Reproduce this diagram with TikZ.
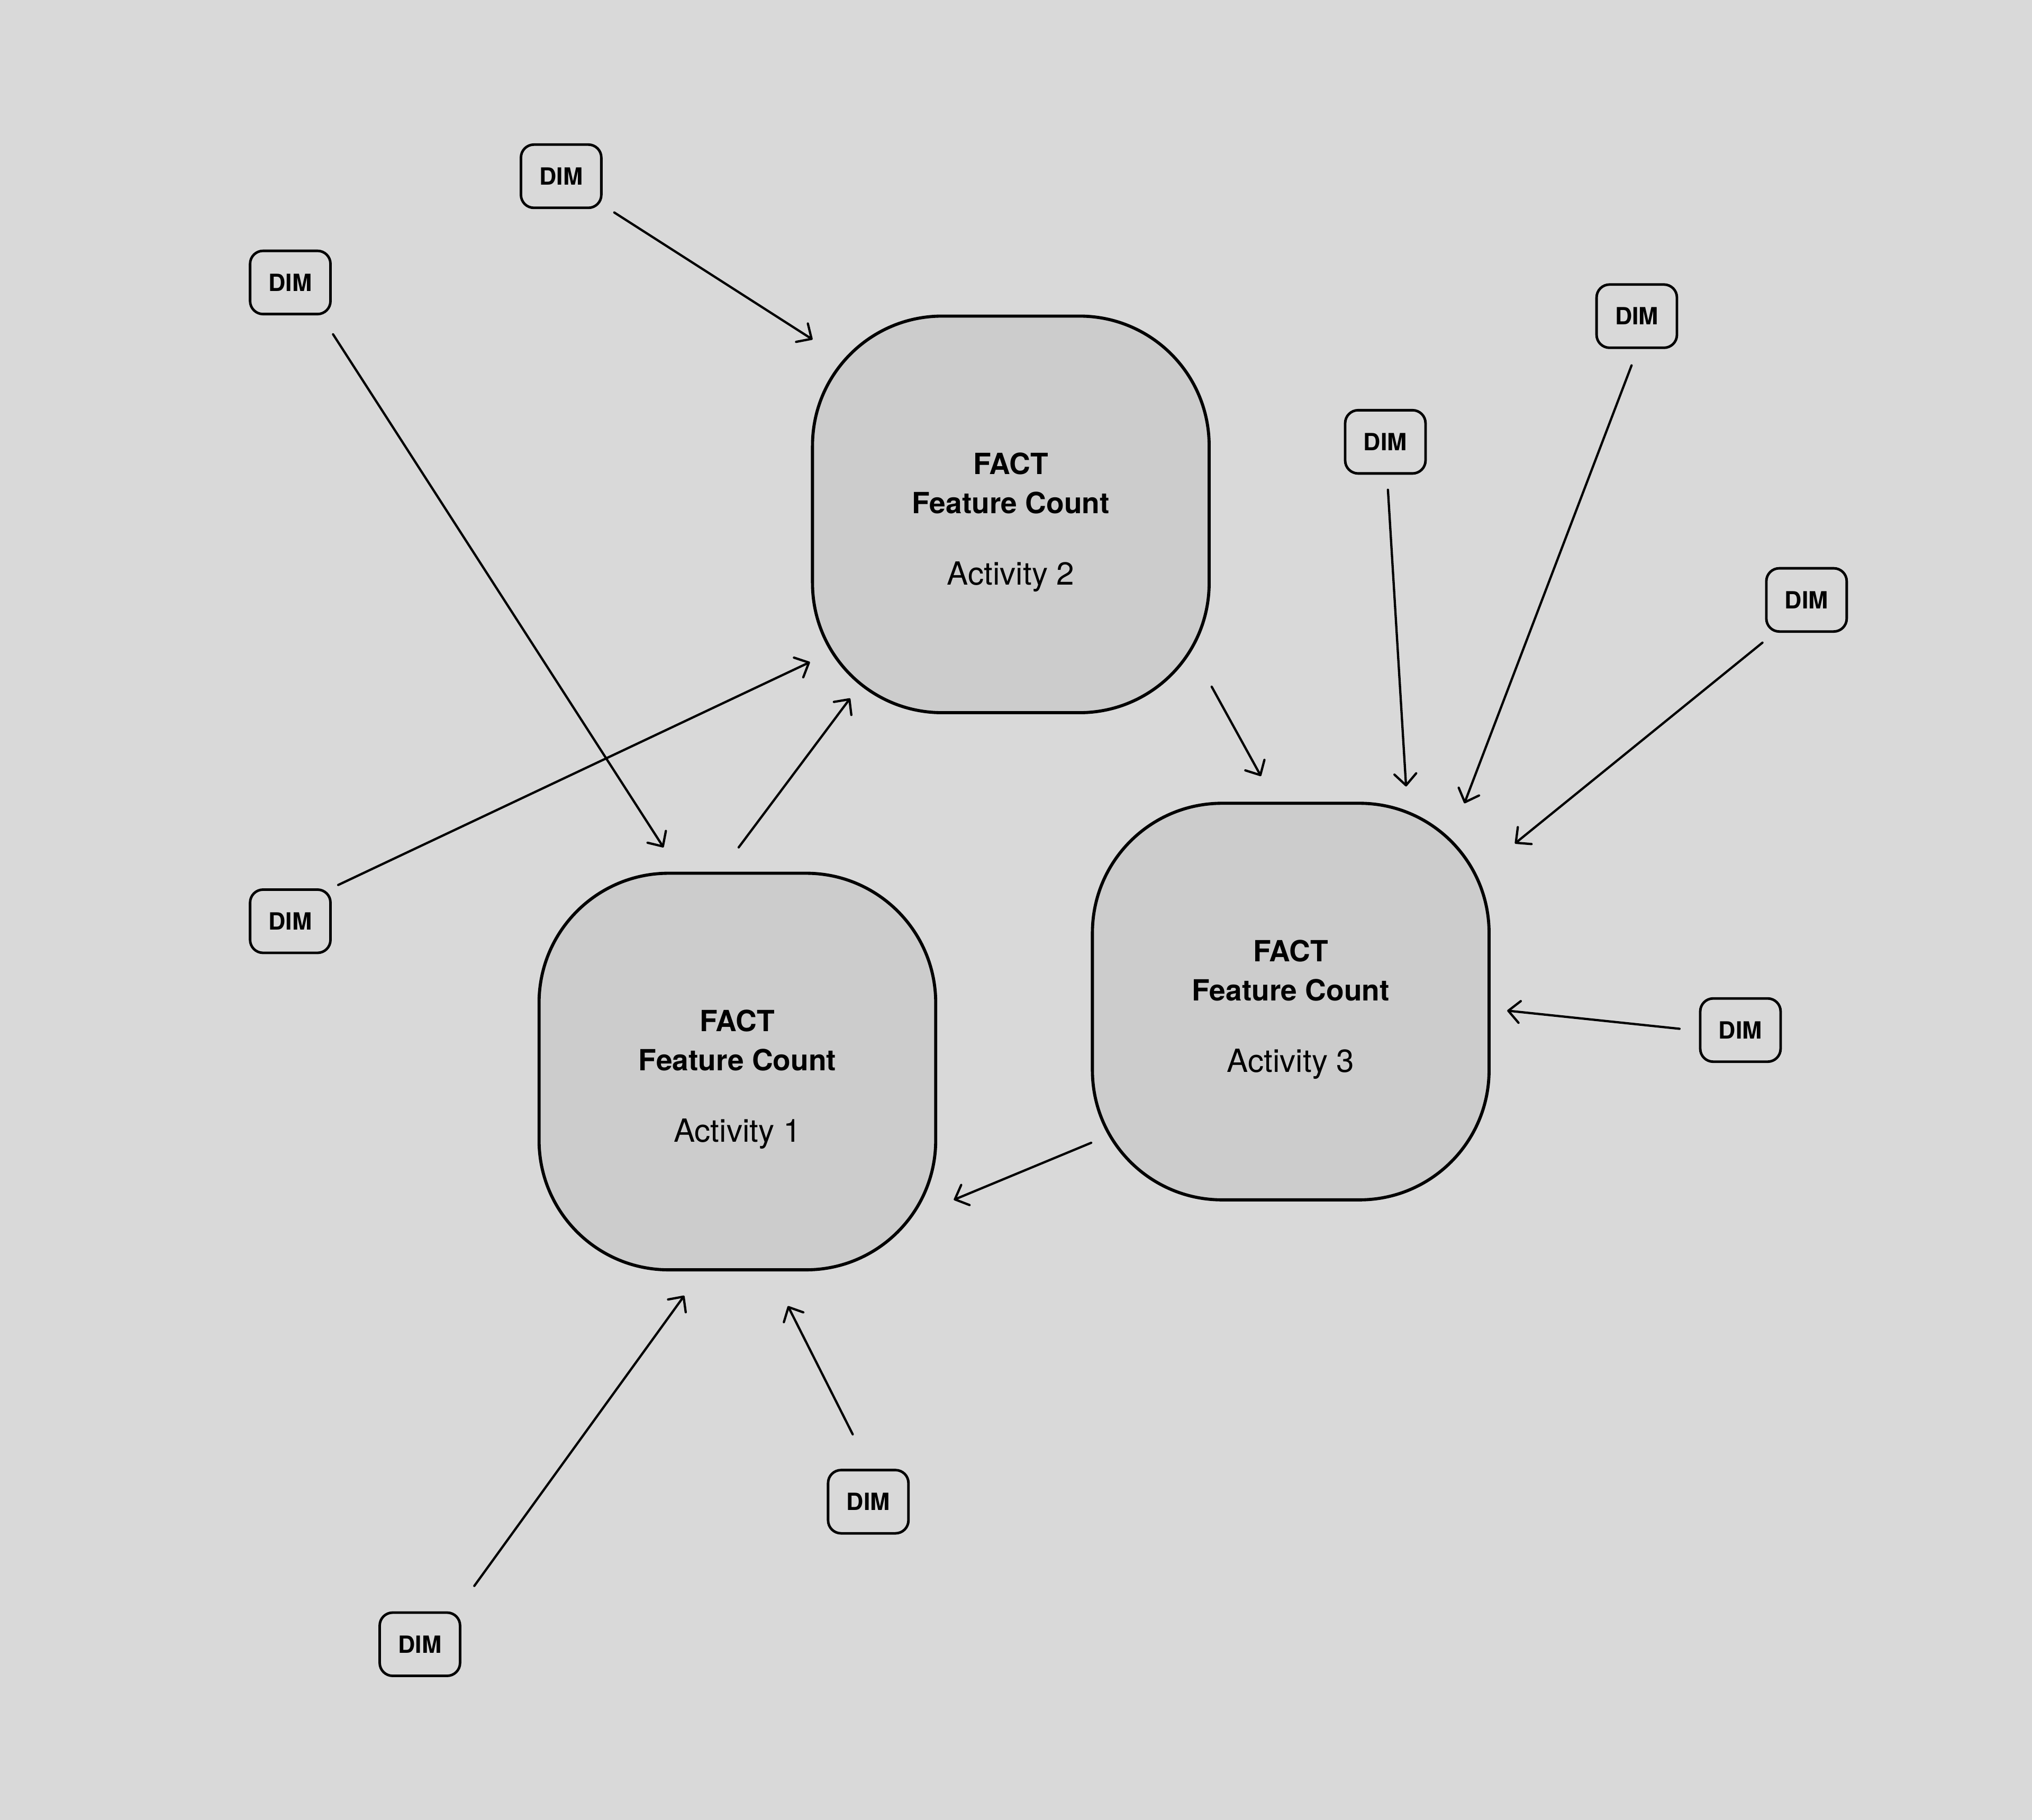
\documentclass[tikz,border=0pt]{standalone}
\usepackage{fontspec}
\setmainfont{TeX Gyre Heros}
\usepackage{xcolor}
\usetikzlibrary{arrows.meta,calc}
\definecolor{bggray}{HTML}{D9D9D9}
\definecolor{factgray}{HTML}{CCCCCC}
\newcommand{\actfont}{\fontsize{17.5}{21.5}\selectfont}

\begin{document}
\begin{tikzpicture}[x=0.025cm, y=-0.025cm,
    fact/.style={rectangle, draw, line width=1.7pt, fill=factgray, rounded corners=2.5cm,
        minimum width=7.65cm, minimum height=7.65cm, align=center, font=\fontsize{16}{21.5}\selectfont},
    dim/.style={rectangle, draw, line width=1.4pt, rounded corners=0.25cm, inner sep=0pt,
        minimum width=1.55cm, minimum height=1.22cm, font=\bfseries\fontsize{13}{15}\selectfont},
    arr/.style={line width=1.25pt, line cap=round,
        -{Straight Barb[length=2.2mm, width=4.2mm, line cap=round, line join=round]}}]
    \fill[bggray] (0,0) rectangle (1568,1404.67);
    \useasboundingbox (0,0) rectangle (1568,1404.67);

    \node[fact] (A2) at (780,397) {\rule{0pt}{0.72cm}\textbf{FACT}\\\textbf{Feature Count}\\[0.62cm]\actfont Activity 2};
    \node[fact] (A1) at (569,827) {\rule{0pt}{0.72cm}\textbf{FACT}\\\textbf{Feature Count}\\[0.62cm]\actfont Activity 1};
    \node[fact] (A3) at (996,773) {\rule{0pt}{0.72cm}\textbf{FACT}\\\textbf{Feature Count}\\[0.62cm]\actfont Activity 3};

    \node[dim] (D1) at (433,136) {DIM};
    \node[dim] (D2) at (224,218) {DIM};
    \node[dim] (D3) at (1263,244) {DIM};
    \node[dim] (D4) at (1069,341) {DIM};
    \node[dim] (D5) at (1394,463) {DIM};
    \node[dim] (D6) at (224,711) {DIM};
    \node[dim] (D7) at (1343,795) {DIM};
    \node[dim] (D8) at (670,1159) {DIM};
    \node[dim] (D9) at (324,1269) {DIM};

    \draw[arr] ($(D1)+(41,28)$) -- ($(A2)+(-153,-135)$);
    \draw[arr] ($(D2)+(33,40)$) -- ($(A1)+(-57,-173)$);
    \draw[arr] ($(D6)+(37,-28)$) -- ($(A2)+(-155,114)$);
    \draw[arr] ($(A1)+(1,-173)$) -- ($(A2)+(-124,142)$);
    \draw[arr] ($(A2)+(155,133)$) -- ($(A3)+(-23,-174)$);
    \draw[arr] ($(D4)+(2,37)$) -- ($(A3)+(89,-166)$);
    \draw[arr] ($(D3)+(-4,38)$) -- ($(A3)+(134,-153)$);
    \draw[arr] ($(D5)+(-34,33)$) -- ($(A3)+(173,-122)$);
    \draw[arr] ($(D7)+(-47,-1)$) -- ($(A3)+(167,7)$);
    \draw[arr] ($(A3)+(-154,109)$) -- ($(A1)+(167,99)$);
    \draw[arr] ($(D8)+(-12,-52)$) -- ($(A1)+(39,181)$);
    \draw[arr] ($(D9)+(42,-45)$) -- ($(A1)+(-41,173)$);
\end{tikzpicture}
\end{document}
